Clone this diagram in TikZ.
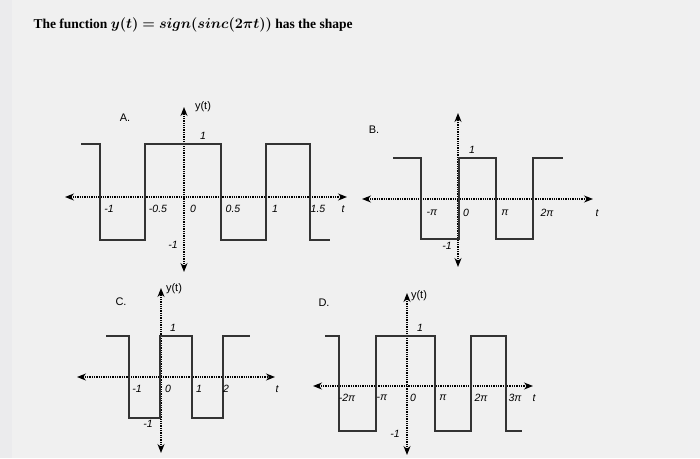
\documentclass[tikz,border=0pt]{standalone}
\usepackage{amsmath,bm}
\usepackage{fontspec}
\setmainfont{Liberation Serif}
\newfontfamily\lab{Liberation Sans}
\usetikzlibrary{arrows.meta}
\begin{document}
\begin{tikzpicture}[x=1pt,y=-1pt,
  ax/.style={densely dotted,line width=1.3pt,{Stealth[length=9pt,width=7pt]}-{Stealth[length=9pt,width=7pt]}},
  wave/.style={line width=1.1pt,black!80},
  lb/.style={font=\lab\itshape\fontsize{10.5}{11}\selectfont,inner sep=0.5pt},
  pl/.style={font=\lab\fontsize{11}{12}\selectfont,inner sep=0.5pt}]
\fill[black!6] (0,0) rectangle (700,458);
\fill[blue!10!black!8] (0,0) rectangle (12,458);
\fill[blue!12!black!6] (688,0) rectangle (700,458);
\useasboundingbox (0,0) rectangle (700,458);
\node[anchor=west,font=\fontsize{13.5}{15}\selectfont\bfseries] (title) at (30,25)
  {The function $\bm{y(t) = sign(sinc(2\pi t))}$ has the shape};
% ---- A
\draw[ax] (184,272) -- (184,107);
\draw[ax] (65,197) -- (347,197);
\draw[wave] (81,144) -- (100,144) -- (100,240) -- (145,240) -- (145,144) -- (221,144) -- (221,240) -- (266,240) -- (266,144) -- (310,144) -- (310,240) -- (330,240);
\node[pl] (A) at (125,118) {A.};
\node[pl] at (203,107) {y(t)};
\node[lb] at (203,136) {1};
\node[lb] at (173,245) {-1};
\foreach \x/\t in {109/-1,158/-0.5,193/0,233/0.5,275/1,318/1.5,343/t}
  \node[lb] at (\x,209) {\t};
% ---- B
\draw[ax] (458,267) -- (458,113);
\draw[ax] (362,199) -- (593,199);
\draw[wave] (393,158) -- (421,158) -- (421,239) -- (459,239) -- (459,158) -- (496,158) -- (496,239) -- (533,239) -- (533,158) -- (563,158);
\node[pl] (B) at (374,130) {B.};
\node[lb] at (472,150) {1};
\node[lb] at (447,246) {-1};
\foreach \x/\t in {432/-π,466/0,505/π,547/2π,597/t}
  \node[lb] at (\x,213) {\t};
% ---- C
\draw[ax] (161,453) -- (161,288);
\draw[ax] (77,377) -- (275,377);
\draw[wave] (106,336) -- (129,336) -- (129,418) -- (160,418) -- (160,336) -- (192,336) -- (192,418) -- (223,418) -- (223,336) -- (250,336);
\node[pl] (C) at (121,302) {C.};
\node[pl] at (174,289) {y(t)};
\node[lb] at (173,328) {1};
\node[lb] at (148,424) {-1};
\foreach \x/\t in {137/-1,168/0,199/1,226/2,277/t}
  \node[lb] at (\x,389) {\t};
% ---- D
\draw[ax] (407,455) -- (407,293);
\draw[ax] (313,386) -- (533,386);
\draw[wave] (325,336) -- (339,336) -- (339,431) -- (376,431) -- (376,336) -- (435,336) -- (435,431) -- (471,431) -- (471,336) -- (506,336) -- (506,431) -- (522,431);
\node[pl] (D) at (324,303) {D.};
\node[pl] at (419,296) {y(t)};
\node[lb] at (420,328) {1};
\node[lb] at (395,434) {-1};
\foreach \x/\t in {347/-2π,382/-π,413/0,443/π,481/2π,515/3π,534/t}
  \node[lb] at (\x,398) {\t};
\end{tikzpicture}
\end{document}
